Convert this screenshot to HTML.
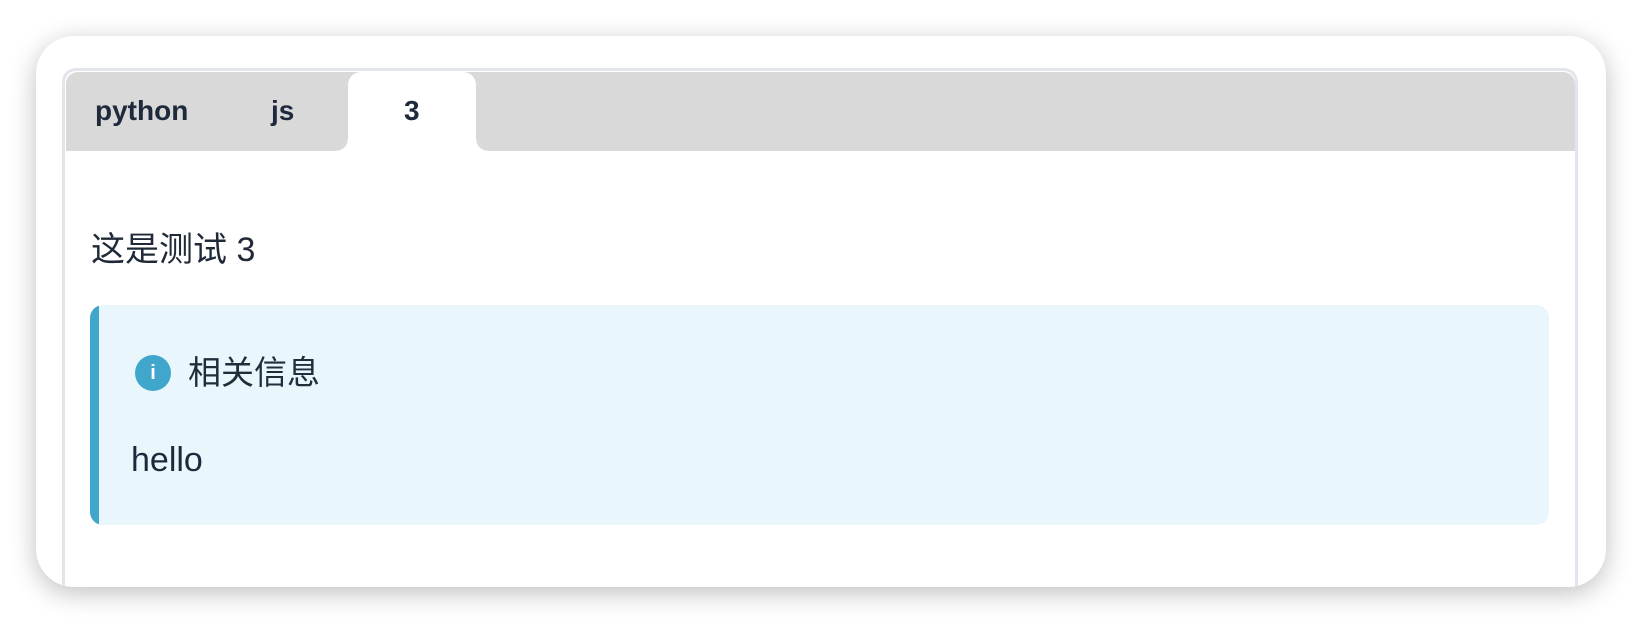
<!DOCTYPE html>
<html><head><meta charset="utf-8"><style>
html,body{margin:0;padding:0;width:1642px;height:624px;background:#fff;overflow:hidden;font-family:"Liberation Sans","Noto Sans CJK SC",sans-serif;color:#1f2937}
.card{position:absolute;left:36px;top:36px;width:1570px;height:551px;background:#fff;border-radius:38px;box-shadow:0 6px 26px rgba(0,0,0,0.25);overflow:hidden}
.box{position:absolute;left:26px;top:32px;width:1510px;height:560px;border:3px solid #e2e6ec;border-radius:14px;overflow:hidden;background:#fff}
.bar{position:absolute;left:1px;top:1px;right:0;height:79px;background:#d9d9d9;border-radius:12px 12px 0 0}
.tab{position:absolute;top:24px;font-weight:bold;font-size:28px;line-height:32px;color:#1e293b}
.act{position:absolute;left:283px;top:1px;width:128px;height:79px;background:#fff;border-radius:13px 13px 0 0}
.act:before,.act:after{content:"";position:absolute;bottom:0;width:12px;height:12px}
.act:before{left:-12px;background:radial-gradient(circle at 0 0,transparent 11.5px,#fff 12px)}
.act:after{right:-12px;background:radial-gradient(circle at 100% 0,transparent 11.5px,#fff 12px)}
.p{position:absolute;left:26px;top:159px;font-size:34px;line-height:40px}
.call{position:absolute;left:25px;top:234px;width:1459px;height:220px;background:#e9f6fc;border-radius:13px;overflow:hidden}
.call:before{content:"";position:absolute;left:0;top:0;bottom:0;width:9px;background:#41a6cc}
.ic{position:absolute;left:45px;top:50px;width:36px;height:36px;border-radius:50%;background:#41a6cc;color:#fff;font-weight:bold;font-size:20px;text-align:center;line-height:36px}
.t{position:absolute;left:98px;top:48px;font-size:33px;line-height:40px;font-weight:normal;color:#1e2f3b}
.h{position:absolute;left:41px;top:135px;font-size:34px;line-height:40px;color:#1e293b}
</style></head><body>
<div class="card"><div class="box">
<div class="bar"></div>
<div class="act"></div>
<div class="tab" style="left:30px">python</div>
<div class="tab" style="left:206px">js</div>
<div class="tab" style="left:339px">3</div>
<div class="p">这是测试 3</div>
<div class="call"><div class="ic">i</div><div class="t">相关信息</div><div class="h">hello</div></div>
</div></div>
</body></html>
